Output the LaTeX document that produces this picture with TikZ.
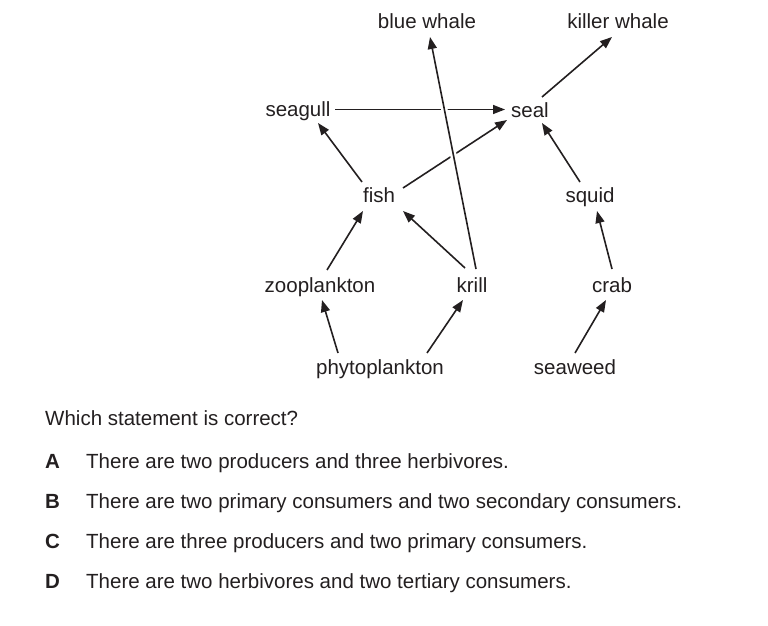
\documentclass[tikz,border=0pt]{standalone}
\usepackage{fontspec}
\setmainfont{Liberation Sans}
\usetikzlibrary{arrows.meta}
\definecolor{ink}{RGB}{35,31,32}
\begin{document}
\begin{tikzpicture}[x=1pt,y=-1pt,
  lab/.style={inner sep=0pt,anchor=base,text=ink,font=\fontsize{20.5}{24}\selectfont},
  qtext/.style={inner sep=0pt,anchor=base west,text=ink,font=\fontsize{20.5}{24}\selectfont},
  qletter/.style={inner sep=0pt,anchor=base west,text=ink,font=\fontsize{20.5}{24}\selectfont\bfseries},
  arr/.style={draw=ink,line width=1.6pt,-{Triangle[length=12pt,width=9pt]}},
  over/.style={preaction={draw=white,line width=6.5pt,-}}]
\useasboundingbox (0,0) rectangle (768,626);
\fill[white] (0,0) rectangle (768,626);
% nodes
\node[lab] (bw) at (427,29) {blue whale};
\node[lab] (kw) at (618,29) {killer whale};
\node[lab] (seagull) at (298,116) {seagull};
\node[lab] (seal) at (530,117) {seal};
\node[lab] (fish) at (379,202) {fish};
\node[lab] (squid) at (590,202) {squid};
\node[lab] (zoo) at (320,292) {zooplankton};
\node[lab] (krill) at (472,292) {krill};
\node[lab] (crab) at (612,292) {crab};
\node[lab] (phyto) at (380,374) {phytoplankton};
\node[lab] (seaweed) at (575,374) {seaweed};
% connectors
\draw[arr] ([shift={(37,-6.5)}]seagull.base) -- ([shift={(-25,-7.5)}]seal.base);
\draw[arr] ([shift={(-17,-20)}]fish.base) -- ([shift={(20,7)}]seagull.base);
\draw[arr] ([shift={(24,-14)}]fish.base) -- ([shift={(-23,3)}]seal.base);
\draw[arr] ([shift={(12,-20)}]seal.base) -- ([shift={(-6,8)}]kw.base);
\draw[arr] ([shift={(-10,-20)}]squid.base) -- ([shift={(12,6)}]seal.base);
\draw[arr] ([shift={(7,-22)}]zoo.base) -- ([shift={(-16,9)}]fish.base);
\draw[arr] ([shift={(-7,-24)}]krill.base) -- ([shift={(24,9)}]fish.base);
\draw[arr] ([shift={(-42,-21)}]phyto.base) -- ([shift={(2,8)}]zoo.base);
\draw[arr] ([shift={(47,-21)}]phyto.base) -- ([shift={(-9,8)}]krill.base);
\draw[arr] ([shift={(0,-23)}]crab.base) -- ([shift={(7,9)}]squid.base);
\draw[arr] ([shift={(0,-21)}]seaweed.base) -- ([shift={(-6,8)}]crab.base);
\draw[arr,over] ([shift={(4,-23)}]krill.base) -- ([shift={(3,8)}]bw.base);
% question
\node[qtext] (q) at (45,425) {Which statement is correct?};
\node[qletter] (la) at (45,468) {A};
\node[qtext] (ta) at (86,468) {There are two producers and three herbivores.};
\node[qletter] (lb) at (45,508) {B};
\node[qtext] (tb) at (86,508) {There are two primary consumers and two secondary consumers.};
\node[qletter] (lc) at (45,548) {C};
\node[qtext] (tc) at (86,548) {There are three producers and two primary consumers.};
\node[qletter] (ld) at (45,588) {D};
\node[qtext] (td) at (86,588) {There are two herbivores and two tertiary consumers.};
\end{tikzpicture}
\end{document}
